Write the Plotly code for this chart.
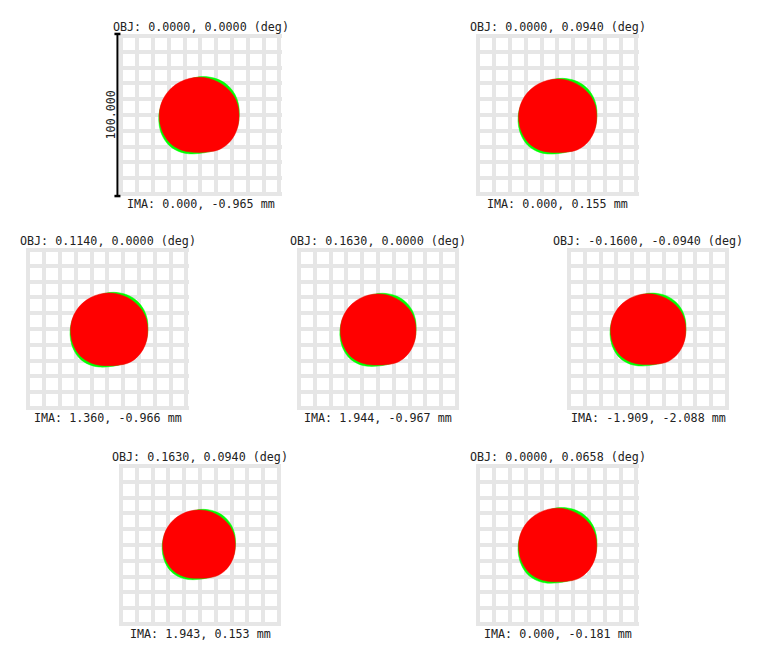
import numpy as np
import plotly.graph_objects as go

# ---- data ----
obj_x = [0.0000, 0.0000, 0.1140, 0.1630, -0.1600, 0.1630, 0.0000]   # deg
obj_y = [0.0000, 0.0940, 0.0000, 0.0000, -0.0940, 0.0940, 0.0658]   # deg
ima_x = [0.000, 0.000, 1.360, 1.944, -1.909, 1.943, 0.000]           # mm
ima_y = [-0.965, 0.155, -0.966, -0.967, -2.088, 0.153, -0.181]       # mm

# spot centroid offset (um) and radius (um) for each field
spot_dx = [-0.95, 0.0, 0.95, 0.0, 0.0, -0.75, 0.0]
spot_dy = [0.0, -0.6, -0.3, -0.4, -0.2, 0.45, -0.1]
spot_r = [24.7, 24.2, 23.9, 23.4, 23.3, 22.5, 24.2]

# normalised spot outline (red wavelength), radii at angles 0..345 deg
outline_deg = list(range(0, 360, 15))
red_shape = [1.026, 1.024, 1.012, 0.990, 0.975, 0.968, 0.966, 0.968, 0.975, 0.988,
             1.000, 1.012, 1.018, 1.024, 1.030, 1.033, 1.010, 0.978, 0.958, 0.978,
             1.025, 1.045, 1.046, 1.038]
# green wavelength outline extension relative to red
green_delta = [0.005, 0.025, 0.05, 0.07, 0.065, 0.04, 0.012, -0.02, -0.02, -0.02,
               -0.02, -0.01, 0.01, 0.03, 0.05, 0.06, 0.06, 0.05, 0.028, 0.0,
               -0.02, -0.02, -0.02, -0.01]

scale_bar_um = 100.0

# ---- layout (pixels) ----
W, Hh = 768, 659
PX = 1.58          # pixels per micron
HALF = 51.3        # axis half range (um)
centers = [(200.5, 115), (557.5, 115), (107.5, 329), (378, 329), (648, 329),
           (200, 545), (557.5, 545)]

fig = go.Figure()
ang = np.deg2rad(np.array(outline_deg + [outline_deg[0]]))
rs = np.array(red_shape + [red_shape[0]])
gs = rs + np.array(green_delta + [green_delta[0]])

annotations = []
font = dict(family="DejaVu Sans Mono", size=11.7, color="#222222")
hp = HALF * PX
for i, (cx, cy) in enumerate(centers):
    k = "" if i == 0 else str(i + 1)
    fig.update_layout(**{
        f"xaxis{k}": dict(domain=[(cx - hp) / W, (cx + hp) / W], range=[-HALF, HALF],
                          tick0=0, dtick=10, showgrid=True, gridcolor="#e6e6e6", gridwidth=4,
                          zeroline=False, showticklabels=False, ticks="", showline=False,
                          anchor=f"y{k}", fixedrange=True),
        f"yaxis{k}": dict(domain=[1 - (cy + hp) / Hh, 1 - (cy - hp) / Hh], range=[-HALF, HALF],
                          tick0=0, dtick=10, showgrid=True, gridcolor="#e6e6e6", gridwidth=4,
                          zeroline=False, showticklabels=False, ticks="", showline=False,
                          anchor=f"x{k}", fixedrange=True),
    })
    xr, yr = f"x{k}", f"y{k}"
    r = spot_r[i]
    fig.add_trace(go.Scatter(x=spot_dx[i] + r * gs * np.cos(ang), y=spot_dy[i] + r * gs * np.sin(ang),
                             mode="lines", line=dict(color="#00ff00", width=0.5, shape="spline"),
                             fill="toself", fillcolor="#00ff00", xaxis=xr, yaxis=yr,
                             hoverinfo="skip", showlegend=False))
    fig.add_trace(go.Scatter(x=spot_dx[i] + r * rs * np.cos(ang), y=spot_dy[i] + r * rs * np.sin(ang),
                             mode="lines", line=dict(color="#ff0000", width=0.5, shape="spline"),
                             fill="toself", fillcolor="#ff0000", xaxis=xr, yaxis=yr,
                             hoverinfo="skip", showlegend=False))
    annotations.append(dict(x=0.5, y=1, xref=f"{xr} domain", yref=f"{yr} domain", yshift=7.4,
                            showarrow=False,
                            text=f"OBJ: {obj_x[i]:.4f}, {obj_y[i]:.4f} (deg)", font=font,
                            xanchor="center", yanchor="middle"))
    annotations.append(dict(x=0.5, y=0, xref=f"{xr} domain", yref=f"{yr} domain", yshift=-7.7,
                            showarrow=False,
                            text=f"IMA: {ima_x[i]:.3f}, {ima_y[i]:.3f} mm", font=font,
                            xanchor="center", yanchor="middle"))

# scale bar on first panel (domain coordinates, unclipped)
span = 2 * hp
bx = -2.0 / span
cap = 3.0 / span
shapes = [
    dict(type="line", xref="x domain", yref="y domain", x0=bx, x1=bx, y0=0, y1=1,
         line=dict(color="black", width=2)),
    dict(type="line", xref="x domain", yref="y domain", x0=bx - cap, x1=bx + cap, y0=1, y1=1,
         line=dict(color="black", width=2.5)),
    dict(type="line", xref="x domain", yref="y domain", x0=bx - cap, x1=bx + cap, y0=0, y1=0,
         line=dict(color="black", width=2.5)),
]
annotations.append(dict(x=0, y=0.5, xref="x domain", yref="y domain", xshift=-8, showarrow=False,
                        text=f"{scale_bar_um:.3f}", textangle=-90, font=font,
                        xanchor="center", yanchor="middle"))

fig.update_layout(width=W, height=Hh, margin=dict(l=0, r=0, t=0, b=0),
                  paper_bgcolor="white", plot_bgcolor="white",
                  annotations=annotations, shapes=shapes, showlegend=False)
fig.write_html("out.html")
